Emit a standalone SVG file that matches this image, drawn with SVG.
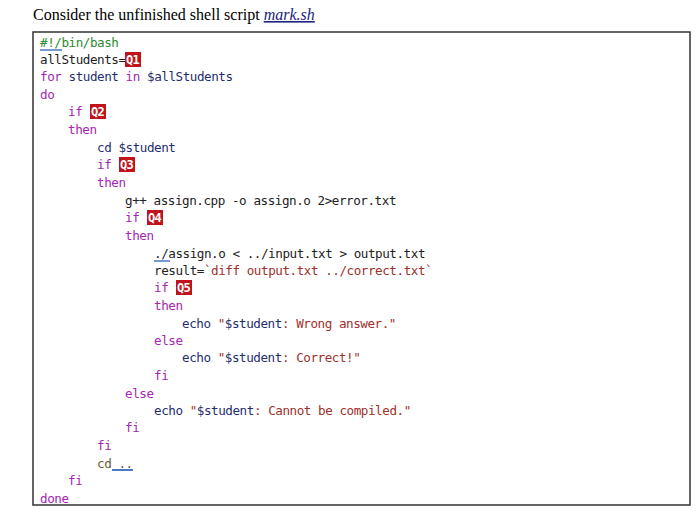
<svg xmlns="http://www.w3.org/2000/svg" width="700" height="532" viewBox="0 0 700 532">
<style>
text{font-family:"DejaVu Sans Mono","Liberation Mono",monospace;font-size:12.6px;letter-spacing:-0.45px;white-space:pre}
.t{font-family:"Liberation Serif",serif;font-size:16px;letter-spacing:0;fill:#000}
.k{fill:#a526b0}.v{fill:#1f2d6e}.s{fill:#a0302c}.c{fill:#2e8b2e}.p{fill:#222}.b{fill:#6b5a3a}
.q{fill:#fff;font-weight:bold;font-size:12px;letter-spacing:-0.8px}
</style>
<rect width="700" height="532" fill="#fff"/>
<text class="t" x="33" y="20">Consider the unfinished shell script <tspan font-style="italic" text-decoration="underline" fill="#1a237e">mark.sh</tspan></text>
<rect x="33" y="32" width="657" height="473" fill="none" stroke="#333" stroke-width="1.5"/>
<g id="code">
<text x="40" y="47" class="c">#!/bin/bash</text>
<line x1="40" y1="50" x2="62" y2="50" stroke="#4a78c8" stroke-width="1.5"/>
<text x="40" y="64" class="p">allStudents=</text>
<rect x="125" y="52" width="16" height="15" fill="#c0141c"/><text x="126" y="64" class="q">Q1</text>
<text x="40" y="81"><tspan class="k">for</tspan><tspan class="v"> student </tspan><tspan class="k">in</tspan><tspan class="v"> $allStudents</tspan></text>
<text x="40" y="99" class="k">do</text>
<text x="68" y="116" class="k">if</text>
<rect x="90" y="104" width="16" height="15" fill="#c0141c"/><text x="91" y="116" class="q">Q2</text>
<text x="68" y="134" class="k">then</text>
<text x="97" y="152" class="v">cd $student</text>
<text x="97" y="169" class="k">if</text>
<rect x="119" y="157" width="16" height="15" fill="#c0141c"/><text x="120" y="169" class="q">Q3</text>
<text x="97" y="187" class="k">then</text>
<text x="125" y="205" class="p">g++ assign.cpp -o assign.o 2&gt;error.txt</text>
<text x="125" y="222" class="k">if</text>
<rect x="147" y="210" width="16" height="15" fill="#c0141c"/><text x="148" y="222" class="q">Q4</text>
<text x="125" y="240" class="k">then</text>
<text x="154" y="258" class="p">./assign.o &lt; ../input.txt &gt; output.txt</text>
<line x1="154" y1="261" x2="170" y2="261" stroke="#4a78c8" stroke-width="1.5"/>
<text x="154" y="275"><tspan class="p">result=</tspan><tspan class="s">`diff output.txt ../correct.txt`</tspan></text>
<text x="154" y="292" class="k">if</text>
<rect x="176" y="280" width="16" height="15" fill="#c0141c"/><text x="177" y="292" class="q">Q5</text>
<text x="154" y="310" class="k">then</text>
<text x="182" y="328"><tspan class="v">echo </tspan><tspan class="s">"</tspan><tspan class="v">$student</tspan><tspan class="s">: Wrong answer."</tspan></text>
<text x="154" y="345" class="k">else</text>
<text x="182" y="362"><tspan class="v">echo </tspan><tspan class="s">"</tspan><tspan class="v">$student</tspan><tspan class="s">: Correct!"</tspan></text>
<text x="154" y="380" class="k">fi</text>
<text x="125" y="398" class="k">else</text>
<text x="154" y="415"><tspan class="v">echo </tspan><tspan class="s">"</tspan><tspan class="v">$student</tspan><tspan class="s">: Cannot be compiled."</tspan></text>
<text x="125" y="432" class="k">fi</text>
<text x="97" y="450" class="k">fi</text>
<text x="97" y="468" class="b">cd ..</text>
<line x1="112" y1="470" x2="133" y2="470" stroke="#4a78c8" stroke-width="2"/>
<text x="68" y="485" class="k">fi</text>
<text x="40" y="503" class="k">done</text>
</g>
</svg>
